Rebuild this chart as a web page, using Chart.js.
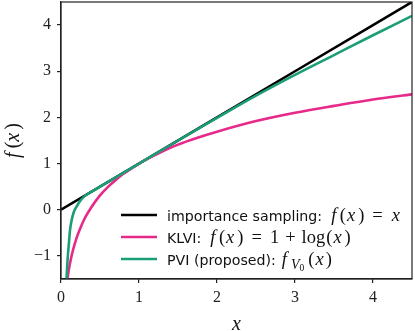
<!DOCTYPE html>
<html>
<head>
<meta charset="utf-8">
<script src="https://cdn.jsdelivr.net/npm/chart.js@4.4.1/dist/chart.umd.min.js"></script>
<style>
  html, body { margin: 0; padding: 0; background: #fff; }
</style>
</head>
<body>
<canvas id="chart" width="415" height="331"></canvas>
<script>
// values
const isX   = [0, 1, 2, 3, 4, 4.5];
const isY   = [0, 1, 2, 3, 4, 4.5];

const klviX = [0.07, 0.08, 0.1, 0.12, 0.15, 0.2, 0.25, 0.3, 0.4, 0.5, 0.6, 0.7, 0.8, 0.9, 1, 1.25, 1.5, 1.75, 2, 2.5, 3, 3.5, 4, 4.5];
const klviY = [-1.66, -1.53, -1.3, -1.12, -0.9, -0.61, -0.39, -0.2, 0.08, 0.31, 0.49, 0.64, 0.78, 0.89, 1.0, 1.22, 1.41, 1.56, 1.69, 1.92, 2.1, 2.25, 2.39, 2.5];

const pviX  = [0.065, 0.08, 0.09, 0.1, 0.115, 0.13, 0.16, 0.2, 0.25, 0.3, 0.35, 0.4, 0.5, 0.75, 1, 1.5, 2, 2.5, 3, 3.5, 4, 4.5];
const pviY  = [-1.7, -1.2, -0.95, -0.75, -0.45, -0.28, -0.07, 0.07, 0.2, 0.29, 0.35, 0.4, 0.5, 0.75, 1.0, 1.5, 1.99, 2.47, 2.92, 3.35, 3.78, 4.2];

const xTicks = [0, 1, 2, 3, 4];
const yTicks = [-1, 0, 1, 2, 3, 4];

const SERIF = '"Liberation Serif", "DejaVu Serif", serif';
const SANS = '"DejaVu Sans", "Liberation Sans", sans-serif';
const mI = "italic 18.5px " + SERIF;
const mR = "18.5px " + SERIF;
const sans = "14.2px " + SANS;

// legend labels: [text, font, dy, extra advance]
const legendLabels = [
    [["importance sampling:", sans, 0, 9], ["f", mI, 0, 3.5], ["(", mR, 0, 1], ["x", mI, 0, 3], [")", mR, 0, 8],
     ["=", mR, 0, 9], ["x", mI]],
    [["KLVI:", sans, 0, 9], ["f", mI, 0, 3.5], ["(", mR, 0, 1], ["x", mI, 0, 3], [")", mR, 0, 8],
     ["=", mR, 0, 8], ["1", mR, 0, 6], ["+", mR, 0, 6], ["log", mR, 0, 1], ["(", mR, 0, 1], ["x", mI, 0, 3], [")", mR]],
    [["PVI (proposed):", sans, 0, 6], ["f", mI, 0, 4], ["V", "italic 14px " + SERIF, 4], ["0", "9.5px " + SERIF, 6, 4],
     ["(", mR, 0, 1], ["x", mI, 0, 2], [")", mR]]
];
const colors = ["#000000", "#e7298a", "#1b9e77"];

const toPts = (xs, ys) => xs.map((x, i) => ({ x, y: ys[i] }));

function drawRich(ctx, parts, x, y) {
    parts.forEach(p => {
        ctx.font = p[1];
        ctx.fillText(p[0], x, y + (p[2] || 0));
        x += ctx.measureText(p[0]).width + (p[3] || 0);
    });
    return x;
}
function richWidth(ctx, parts) {
    let w = 0;
    parts.forEach(p => { ctx.font = p[1]; w += ctx.measureText(p[0]).width + (p[3] || 0); });
    return w;
}

const decor = {
    id: "decor",
    afterDraw(chart) {
        const ctx = chart.ctx;
        const a = chart.chartArea;
        ctx.save();
        ctx.strokeStyle = "#222";
        ctx.lineWidth = 1.2;
        ctx.strokeRect(a.left, a.top, a.right - a.left, a.bottom - a.top);

        // legend
        ctx.textBaseline = "alphabetic";
        ctx.fillStyle = "#111";
        legendLabels.forEach((parts, i) => {
            const y = 215 + i * 22;
            ctx.strokeStyle = colors[i];
            ctx.lineWidth = 2.6;
            ctx.beginPath();
            ctx.moveTo(121, y);
            ctx.lineTo(157, y);
            ctx.stroke();
            drawRich(ctx, parts, 167, y + 6);
        });

        // axis titles
        const xt = [["x", "italic 20px " + SERIF]];
        drawRich(ctx, xt, (a.left + a.right) / 2 - richWidth(ctx, xt) / 2, 330);
        const yt = [["f", "italic 20px " + SERIF, 0, 4], ["(", "20px " + SERIF], ["x", "italic 20px " + SERIF, 0, 3], [")", "20px " + SERIF]];
        ctx.translate(19, (a.top + a.bottom) / 2);
        ctx.rotate(-Math.PI / 2);
        drawRich(ctx, yt, -richWidth(ctx, yt) / 2, 0);
        ctx.restore();
    }
};

const tickFont = { family: SERIF, size: 16 };
const fmt = v => (v < 0 ? "\u2212" + Math.abs(v) : String(v));

new Chart(document.getElementById("chart").getContext("2d"), {
    type: "line",
    data: {
        datasets: [
            { label: "importance sampling", data: toPts(isX, isY), borderColor: colors[0], order: 3 },
            { label: "KLVI", data: toPts(klviX, klviY), borderColor: colors[1], order: 2 },
            { label: "PVI (proposed)", data: toPts(pviX, pviY), borderColor: colors[2], order: 1 }
        ]
    },
    options: {
        responsive: false,
        animation: false,
        devicePixelRatio: 1,
        layout: { padding: { left: 0, top: 2, right: 3, bottom: 0 } },
        elements: {
            point: { radius: 0 },
            line: { borderWidth: 2.6, cubicInterpolationMode: "monotone", fill: false }
        },
        plugins: { legend: { display: false }, tooltip: { enabled: false } },
        scales: {
            x: {
                type: "linear", min: 0, max: 4.5,
                afterBuildTicks: s => { s.ticks = xTicks.map(v => ({ value: v })); },
                afterFit: s => { s.height = 52; s.paddingLeft = 0; s.paddingRight = 0; },
                grid: { drawOnChartArea: false, tickLength: 4, color: "#222", lineWidth: 1.2 },
                border: { color: "#222", width: 1.2 },
                ticks: { font: tickFont, color: "#222", padding: 5, maxRotation: 0, callback: fmt }
            },
            y: {
                type: "linear", min: -1.5, max: 4.5,
                afterBuildTicks: s => { s.ticks = yTicks.map(v => ({ value: v })); },
                afterFit: s => { s.width = 61; s.paddingTop = 0; s.paddingBottom = 0; },
                grid: { drawOnChartArea: false, tickLength: 4, color: "#222", lineWidth: 1.2 },
                border: { color: "#222", width: 1.2 },
                ticks: { font: tickFont, color: "#222", padding: 6, callback: fmt }
            }
        }
    },
    plugins: [decor]
});
</script>
</body>
</html>
